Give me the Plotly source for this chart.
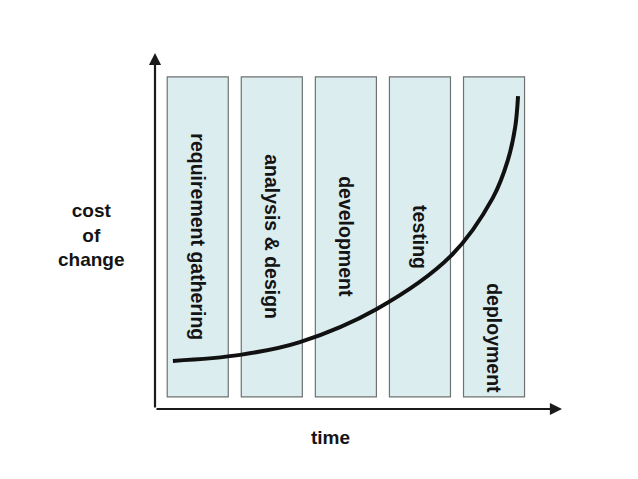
import plotly.graph_objects as go

# Phase boxes (data units: time 0-10, cost 0-10)
phases = ["requirement gathering", "analysis & design", "development", "testing", "deployment"]
phase_start = [0.3, 2.12, 3.94, 5.76, 7.58]
phase_end = [1.8, 3.62, 5.44, 7.26, 9.08]
phase_top = 9.33
phase_bottom = 0.34
label_y = [4.83, 4.83, 4.83, 4.83, 1.99]

# Cost-of-change curve
time_vals = [0.44, 2.09, 3.56, 5.45, 7.27, 8.30, 8.67, 8.85, 8.92]
cost_vals = [1.35, 1.52, 1.88, 2.81, 4.30, 5.93, 6.99, 7.92, 8.79]

fig = go.Figure()

shapes = []
for s, e in zip(phase_start, phase_end):
    shapes.append(dict(type="rect", xref="x", yref="y", x0=s, x1=e, y0=phase_bottom, y1=phase_top,
                       fillcolor="#DCEDEF", line=dict(color="#6f7272", width=1.2), layer="below"))

fig.add_trace(go.Scatter(x=time_vals, y=cost_vals, mode="lines",
                         line=dict(color="#111111", width=4, shape="spline", smoothing=1.0),
                         hoverinfo="skip", showlegend=False))

annotations = []
font_main = dict(family="Liberation Sans, Arial, sans-serif", size=19.5, color="#141414")
for name, s, e, ly in zip(phases, phase_start, phase_end, label_y):
    annotations.append(dict(x=(s + e) / 2, y=ly, xref="x", yref="y", text="<b>" + name + "</b>",
                            textangle=90, showarrow=False, font=font_main))

# Axes with arrows
annotations.append(dict(x=0, y=10, ax=0, ay=0, xref="x", yref="y", axref="x", ayref="y",
                        text="", showarrow=True, arrowhead=2, arrowsize=1.1, arrowwidth=2.2,
                        arrowcolor="#1a1a1a"))
annotations.append(dict(x=10, y=0, ax=0, ay=0, xref="x", yref="y", axref="x", ayref="y",
                        text="", showarrow=True, arrowhead=2, arrowsize=1.1, arrowwidth=2.2,
                        arrowcolor="#1a1a1a"))

annotations.append(dict(x=-0.155, y=0.49, xref="paper", yref="paper", xanchor="center", yanchor="middle",
                        text="<b>cost<br>of<br>change</b>", showarrow=False,
                        font=dict(family="Liberation Sans, Arial, sans-serif", size=19, color="#141414")))
annotations.append(dict(x=0.432, y=-0.081, xref="paper", yref="paper", xanchor="center", yanchor="middle",
                        text="<b>time</b>", showarrow=False,
                        font=dict(family="Liberation Sans, Arial, sans-serif", size=19, color="#141414")))

fig.update_layout(
    width=630, height=471,
    margin=dict(l=147, r=76, t=45, b=70),
    paper_bgcolor="white", plot_bgcolor="white",
    xaxis=dict(range=[0, 10], visible=False, fixedrange=True),
    yaxis=dict(range=[0, 10], visible=False, fixedrange=True),
    shapes=shapes, annotations=annotations,
)

fig.write_html("out.html")
